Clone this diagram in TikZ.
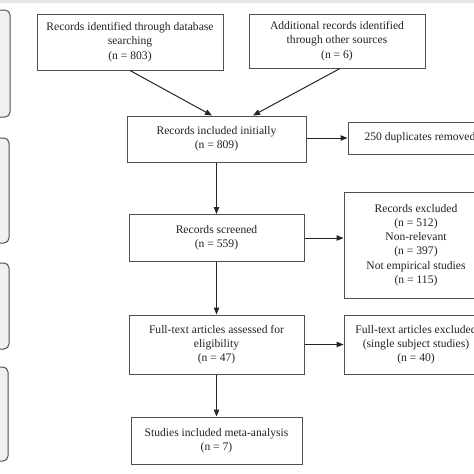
\documentclass[tikz,border=0pt]{standalone}
\usepackage{fontspec}
\setmainfont{Liberation Serif}
\usetikzlibrary{arrows.meta}
\definecolor{bordercol}{HTML}{505050}
\definecolor{textcol}{HTML}{222222}
\definecolor{sidefill}{HTML}{F0F0F0}
\definecolor{stripcol}{HTML}{E6E6E6}
\tikzset{
  flowbox/.style={draw=bordercol, line width=1pt, align=center, inner sep=0pt,
    font=\fontsize{11.6}{14.2}\selectfont, text=textcol, fill=white},
  sidebox/.style={draw=bordercol, line width=1pt, fill=sidefill, rounded corners=5pt},
  flowarrow/.style={draw=black!85, line width=1pt, -{Triangle[length=7pt,width=5.5pt]}}
}
\begin{document}
\begin{tikzpicture}[x=1pt,y=-1pt]
\useasboundingbox (0,0) rectangle (474,474);
\clip (0,0) rectangle (474,474);
\fill[stripcol] (0,0) rectangle (474,2.5);
% side panels (cut off)
\draw[sidebox] (-30,10) rectangle (10,117);
\draw[sidebox] (-30,138) rectangle (9,243);
\draw[sidebox] (-30,263) rectangle (9,349);
\draw[sidebox] (-30,367) rectangle (8,461);
% boxes
\node[flowbox, minimum width=186pt, minimum height=56pt] (A) at (130,42)
  {Records identified through database\\searching\\(n = 803)};
\node[flowbox, minimum width=176pt, minimum height=54pt] (B) at (337,41)
  {Additional records identified\\through other sources\\(n = 6)};
\node[flowbox, minimum width=179pt, minimum height=46pt] (C) at (216.5,139)
  {Records included initially\\(n = 809)};
\node[flowbox, minimum width=144pt, minimum height=32pt] (D) at (420,138)
  {250 duplicates removed};
\node[flowbox, minimum width=175pt, minimum height=47pt] (E) at (216.5,238)
  {Records screened\\(n = 559)};
\node[flowbox, minimum width=144pt, minimum height=106pt] (F) at (416,245)
  {Records excluded\\(n = 512)\\Non-relevant\\(n = 397)\\Not empirical studies\\(n = 115)};
\node[flowbox, minimum width=175pt, minimum height=59pt] (G) at (216.5,344.5)
  {Full-text articles assessed for\\eligibility\\(n = 47)};
\node[flowbox, minimum width=144pt, minimum height=59pt] (H) at (416,344.5)
  {Full-text articles excluded\\(single subject studies)\\(n = 40)};
\node[flowbox, minimum width=171pt, minimum height=47pt] (I) at (216.5,440.5)
  {Studies included meta-analysis\\(n = 7)};
% arrows
\draw[flowarrow] (A.south) -- ([xshift=-4.5pt]C.north);
\draw[flowarrow] ([xshift=3pt]B.south) -- ([xshift=36.5pt]C.north);
\draw[flowarrow] (C.east |- D.west) -- (D.west);
\draw[flowarrow] (C.south) -- (E.north);
\draw[flowarrow] (E.east) -- (F.west |- E.east);
\draw[flowarrow] (E.south) -- (G.north);
\draw[flowarrow] (G.east) -- (H.west);
\draw[flowarrow] (G.south) -- (I.north);
\end{tikzpicture}
\end{document}
